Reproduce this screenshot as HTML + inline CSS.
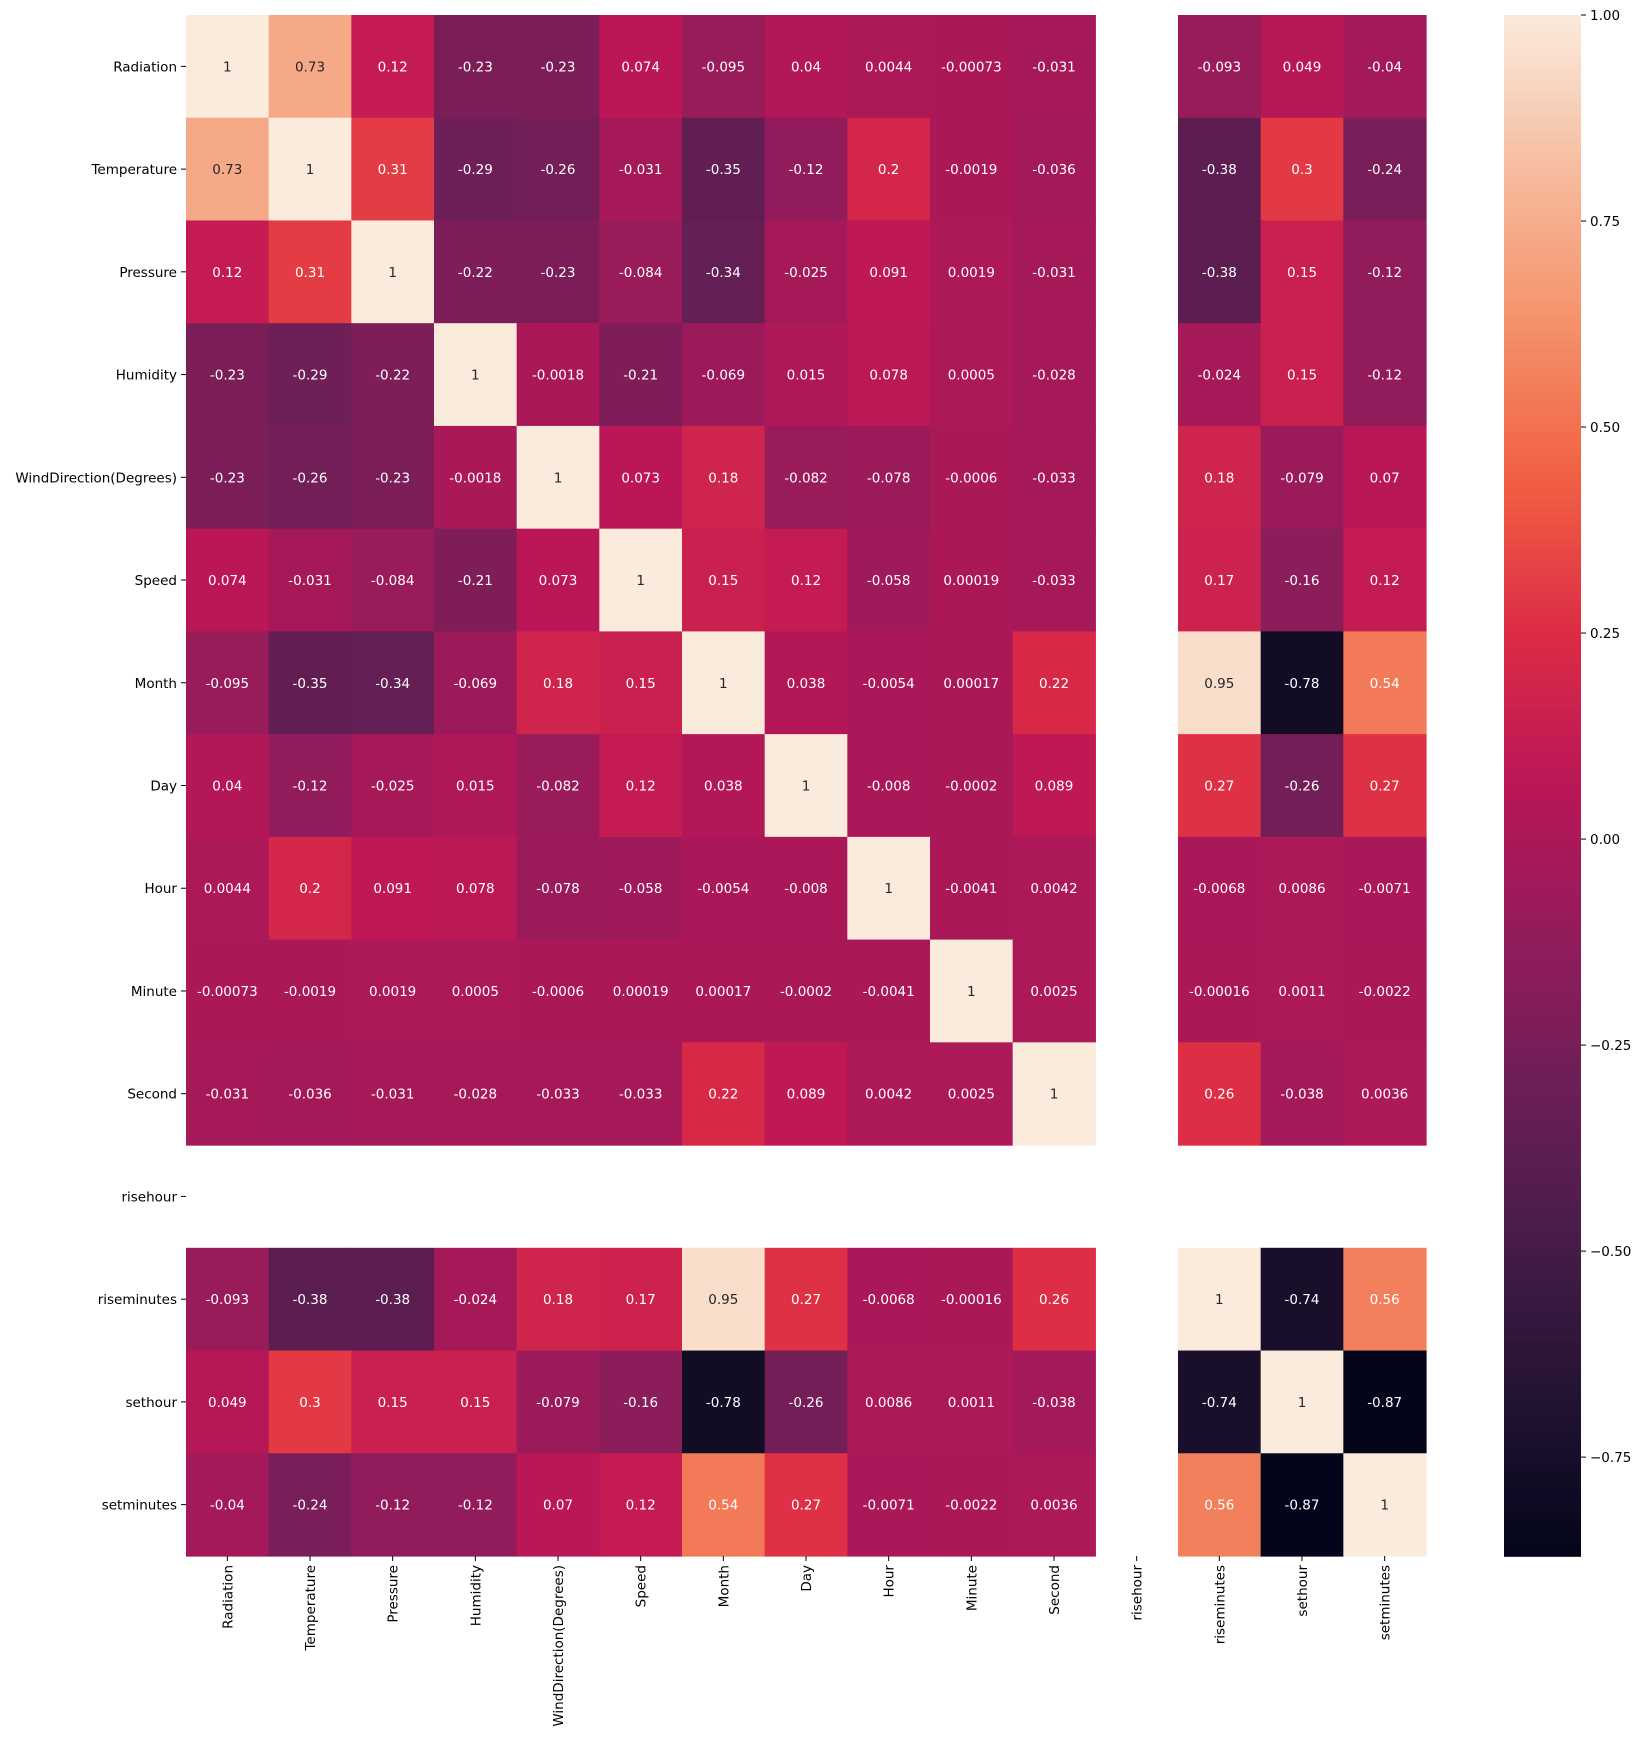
<!DOCTYPE html>
<html><head><meta charset="utf-8">
<style>
html,body{margin:0;padding:0;background:#fff;}
svg{display:block;font-family:"DejaVu Sans","Liberation Sans",sans-serif;}
</style></head>
<body>
<svg id="chart" width="1642" height="1741" viewBox="0 0 1642 1741" xmlns="http://www.w3.org/2000/svg">
<rect width="1642" height="1741" fill="#fff"/>
<g id="cells"></g><g id="ann"></g><g id="yax"></g><g id="xax"></g>
<g id="cbar"></g>
</svg>
<script>
const labels = ["Radiation","Temperature","Pressure","Humidity","WindDirection(Degrees)","Speed","Month","Day","Hour","Minute","Second","risehour","riseminutes","sethour","setminutes"];
const N = null;
const rowRadiation = [1,0.73,0.12,-0.23,-0.23,0.074,-0.095,0.04,0.0044,-0.00073,-0.031,N,-0.093,0.049,-0.04];
const rowTemperature = [0.73,1,0.31,-0.29,-0.26,-0.031,-0.35,-0.12,0.2,-0.0019,-0.036,N,-0.38,0.3,-0.24];
const rowPressure = [0.12,0.31,1,-0.22,-0.23,-0.084,-0.34,-0.025,0.091,0.0019,-0.031,N,-0.38,0.15,-0.12];
const rowHumidity = [-0.23,-0.29,-0.22,1,-0.0018,-0.21,-0.069,0.015,0.078,0.0005,-0.028,N,-0.024,0.15,-0.12];
const rowWind = [-0.23,-0.26,-0.23,-0.0018,1,0.073,0.18,-0.082,-0.078,-0.0006,-0.033,N,0.18,-0.079,0.07];
const rowSpeed = [0.074,-0.031,-0.084,-0.21,0.073,1,0.15,0.12,-0.058,0.00019,-0.033,N,0.17,-0.16,0.12];
const rowMonth = [-0.095,-0.35,-0.34,-0.069,0.18,0.15,1,0.038,-0.0054,0.00017,0.22,N,0.95,-0.78,0.54];
const rowDay = [0.04,-0.12,-0.025,0.015,-0.082,0.12,0.038,1,-0.008,-0.0002,0.089,N,0.27,-0.26,0.27];
const rowHour = [0.0044,0.2,0.091,0.078,-0.078,-0.058,-0.0054,-0.008,1,-0.0041,0.0042,N,-0.0068,0.0086,-0.0071];
const rowMinute = [-0.00073,-0.0019,0.0019,0.0005,-0.0006,0.00019,0.00017,-0.0002,-0.0041,1,0.0025,N,-0.00016,0.0011,-0.0022];
const rowSecond = [-0.031,-0.036,-0.031,-0.028,-0.033,-0.033,0.22,0.089,0.0042,0.0025,1,N,0.26,-0.038,0.0036];
const rowRisehour = [N,N,N,N,N,N,N,N,N,N,N,N,N,N,N];
const rowRiseminutes = [-0.093,-0.38,-0.38,-0.024,0.18,0.17,0.95,0.27,-0.0068,-0.00016,0.26,N,1,-0.74,0.56];
const rowSethour = [0.049,0.3,0.15,0.15,-0.079,-0.16,-0.78,-0.26,0.0086,0.0011,-0.038,N,-0.74,1,-0.87];
const rowSetminutes = [-0.04,-0.24,-0.12,-0.12,0.07,0.12,0.54,0.27,-0.0071,-0.0022,0.0036,N,0.56,-0.87,1];
const matrix = [rowRadiation,rowTemperature,rowPressure,rowHumidity,rowWind,rowSpeed,rowMonth,rowDay,rowHour,rowMinute,rowSecond,rowRisehour,rowRiseminutes,rowSethour,rowSetminutes];
const cbTicks = [-0.75,-0.5,-0.25,0,0.25,0.5,0.75,1.0];
const cbTickLabels = ["\u22120.75","\u22120.50","\u22120.25","0.00","0.25","0.50","0.75","1.00"];
const vmin = -0.87, vmax = 1.0;

const NS="http://www.w3.org/2000/svg";
const FS=13.5;
const L=186,R=1426,T=15,B=1556;
const n=labels.length, cw=(R-L)/n, ch=(B-T)/n;
const xs=i=>L+i*cw, ys=i=>T+i*ch;
const stops=[[0,[3,5,26]],[0.1,[34,19,49]],[0.2,[69,28,71]],[0.3,[106,31,86]],[0.4,[146,28,91]],[0.5,[185,22,87]],[0.6,[221,44,69]],[0.7,[240,96,67]],[0.8,[245,145,106]],[0.9,[246,188,158]],[1,[250,235,221]]];
function cmap(t){t=Math.max(0,Math.min(1,t));for(let k=1;k<stops.length;k++){if(t<=stops[k][0]){const a=stops[k-1],b=stops[k];const f=(t-a[0])/(b[0]-a[0]);return a[1].map((c,j)=>Math.round(c+(b[1][j]-c)*f));}}return stops[stops.length-1][1];}
const norm=v=>(v-vmin)/(vmax-vmin);
function mk(tag,attrs,parent){const e=document.createElementNS(NS,tag);for(const k in attrs)e.setAttribute(k,attrs[k]);parent.appendChild(e);return e;}
const gc=document.getElementById('cells'),ga=document.getElementById('ann'),gy=document.getElementById('yax'),gx=document.getElementById('xax'),gb=document.getElementById('cbar');
for(let r=0;r<n;r++){for(let c=0;c<n;c++){const v=matrix[r][c];if(v===null)continue;
 const col=cmap(norm(v));
 const rc=mk('rect',{x:xs(c),y:ys(r),width:cw+0.6,height:ch+0.6,fill:`rgb(${col})`},gc);
 
 
 const lum=[0,1,2].map(j=>{let x=col[j]/255;return x<=0.03928?x/12.92:Math.pow((x+0.055)/1.055,2.4);});
 const Y=0.2126*lum[0]+0.7152*lum[1]+0.0722*lum[2];
 const t=mk('text',{x:xs(c)+cw/2,y:ys(r)+ch/2+5,'text-anchor':'middle','font-size':FS,fill:Y>0.408?'#262626':'#fff'},ga);
 t.textContent=String(v);
 
 
}}
labels.forEach((lab,i)=>{
 const cy=ys(i)+ch/2;
 mk('line',{x1:L-5,x2:L,y1:cy,y2:cy,stroke:'#000','stroke-width':1},gy);
 const t=mk('text',{x:L-9,y:cy+5,'text-anchor':'end','font-size':FS,fill:'#000'},gy);
 t.textContent=lab;
 
 
 const cx=xs(i)+cw/2;
 mk('line',{x1:cx,x2:cx,y1:B,y2:B+5,stroke:'#000','stroke-width':1},gx);
 const u=mk('text',{transform:`translate(${cx+5},${B+9}) rotate(-90)`,'text-anchor':'end','font-size':FS,fill:'#000'},gx);
 u.textContent=lab;
 
 
});
const CL=1504,CR=1581;
const steps=200;
for(let k=0;k<steps;k++){const t0=k/steps;const y=B-(k+1)/steps*(B-T);
 mk('rect',{x:CL,y:y,width:CR-CL,height:(B-T)/steps+0.8,fill:`rgb(${cmap(t0+0.5/steps)})`},gb);}
cbTicks.forEach((v,i)=>{const y=B-norm(v)*(B-T);
 mk('line',{x1:CR,x2:CR+5,y1:y,y2:y,stroke:'#000','stroke-width':1},gb);
 const t=mk('text',{x:CR+9,y:y+5,'font-size':FS,fill:'#000'},gb);
 t.textContent=cbTickLabels[i];
 
 
});


</script>
</body></html>
